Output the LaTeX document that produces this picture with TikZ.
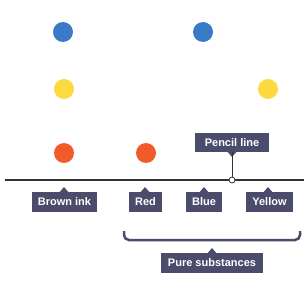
\documentclass[tikz,border=0pt]{standalone}
\usepackage{fontspec}
\setmainfont{Liberation Sans}
\begin{document}
\begin{tikzpicture}[x=1pt,y=-1pt,
  dot/.style={circle,inner sep=0pt,minimum size=20pt},
  lbl/.style={rectangle,fill=boxc,text=white,inner sep=0pt,minimum height=20pt,font=\fontsize{11}{12}\selectfont\bfseries},
  tip/.style={fill=boxc}]
\definecolor{boxc}{HTML}{4B4B6B}
\definecolor{bluec}{HTML}{3A7BC8}
\definecolor{yelc}{HTML}{FDDA40}
\definecolor{redc}{HTML}{F15A29}
\definecolor{linec}{HTML}{333333}
\useasboundingbox (0,0) rectangle (304,304);
% dots
\node[dot,fill=bluec] (b1) at (63,32) {};
\node[dot,fill=bluec] (b2) at (203,32) {};
\node[dot,fill=yelc] (y1) at (64,89) {};
\node[dot,fill=yelc] (y2) at (268,89) {};
\node[dot,fill=redc] (r1) at (64,153) {};
\node[dot,fill=redc] (r2) at (146,153) {};
% pencil line
\coordinate (L0) at (5,180);
\coordinate (L1) at (304,180);
\draw[linec,line width=1.8pt] (L0) -- (L1);
% labels
\node[lbl,minimum width=65pt] (brown) at (64.5,202) {Brown ink};
\node[lbl,minimum width=33pt] (red) at (145.5,202) {Red};
\node[lbl,minimum width=36pt] (blue) at (204,202) {Blue};
\node[lbl,minimum width=47pt] (yellow) at (269.5,202) {Yellow};
\node[lbl,minimum width=74pt,minimum height=19pt] (pencil) at (232,142.5) {Pencil line};
\node[lbl,minimum width=102pt] (pure) at (212,263) {Pure substances};
% tips
\foreach \n/\xx in {brown/64,red/145,blue/204,yellow/268}{
  \fill[tip] (\xx-4.5,192.2) -- (\xx,187) -- (\xx+4.5,192.2) -- cycle;
}
\fill[tip] (227.5,151.8) -- (232,157) -- (236.5,151.8) -- cycle;
\fill[tip] (207.5,253.2) -- (212,248) -- (216.5,253.2) -- cycle;
% pencil connector
\node[circle,draw=linec,fill=white,line width=0.8pt,inner sep=0pt,minimum size=6pt] (pt) at (232,180) {};
\draw[linec,line width=0.8pt] (pencil.south) -- (pt.north);
% bracket
\coordinate (k0) at (124,231);
\coordinate (k1) at (124,240);
\coordinate (k2) at (300,240);
\coordinate (k3) at (300,231);
\draw[boxc,line width=2.5pt,rounded corners=5pt] (k0) -- (k1) -- (k2) -- (k3);
\end{tikzpicture}
\end{document}
